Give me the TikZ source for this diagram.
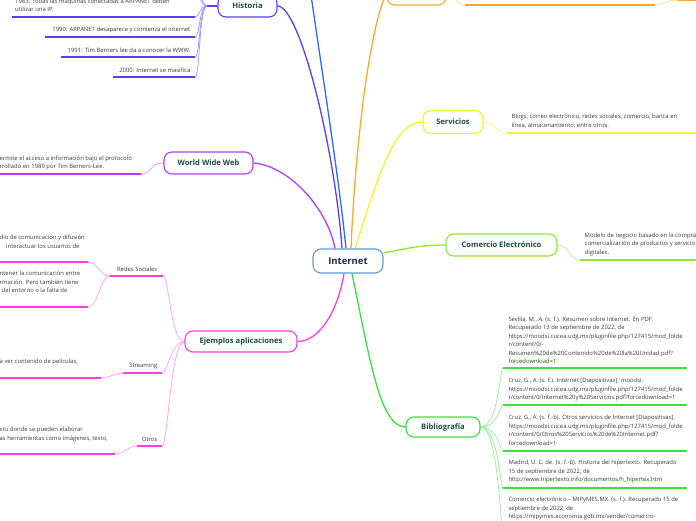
\documentclass[tikz,border=0pt]{standalone}
\usepackage{fontspec}
\setmainfont{Open Sans}
\definecolor{histc}{HTML}{5B3CF5}
\definecolor{histl}{HTML}{A898FF}
\definecolor{bluec}{HTML}{2A6AF5}
\definecolor{orangec}{HTML}{FFA52A}
\definecolor{orangel}{HTML}{FFD9A0}
\definecolor{yellowc}{HTML}{F2F22A}
\definecolor{yellowl}{HTML}{F7F79A}
\definecolor{limec}{HTML}{8DE830}
\definecolor{limel}{HTML}{C5F49A}
\definecolor{greenc}{HTML}{3BE03B}
\definecolor{greenl}{HTML}{9DF09D}
\definecolor{pinkc}{HTML}{FF3DE0}
\definecolor{pinkl}{HTML}{FFA6F2}
\definecolor{wwwc}{HTML}{B43CF4}
\definecolor{wwwl}{HTML}{D9A3FA}
\definecolor{intc}{HTML}{5E9BD6}
\definecolor{titlec}{HTML}{1B4D3E}
\definecolor{navyc}{HTML}{1F2A44}
\definecolor{txtc}{HTML}{3A3A3A}
\pgfdeclarelayer{bg}
\pgfsetlayers{bg,main}
\tikzset{
  topic/.style={draw, line width=1.1pt, rounded corners=8pt, fill=white, inner sep=0pt,
    minimum height=22pt, text=titlec, font=\bfseries\fontsize{7.6}{9}\selectfont},
  small/.style={inner sep=0pt, text=txtc, font=\fontsize{5.9}{8.6}\selectfont, align=left},
  bibtext/.style={small, font=\fontsize{5.9}{8.5}\selectfont},
  branch/.style={line width=1.3pt},
  uline/.style={line width=2pt},
  twig/.style={line width=0.8pt},
}
\begin{document}
\begin{tikzpicture}[x=1pt,y=-1pt]
\useasboundingbox (0,0) rectangle (696,520);
\clip (0,0) rectangle (696,520);

% ---------- main topics ----------
\node[topic, draw=intc, minimum width=70pt, minimum height=24pt, text=navyc,
  font=\bfseries\fontsize{9.5}{11}\selectfont] (internet) at (348,261) {Internet};
\node[topic, draw=histc, minimum width=59pt] (historia) at (247.5,6) {Historia};
\node[topic, draw=orangec, minimum width=59pt] (orangetopic) at (416.5,-6) {};
\node[topic, draw=yellowc, minimum width=60pt, minimum height=23pt] (servicios) at (453,122) {Servicios};
\node[topic, draw=limec, minimum width=111pt] (comercio) at (501.5,245) {Comercio Electrónico};
\node[topic, draw=greenc, minimum width=74pt, minimum height=20pt] (biblio) at (443,427) {Bibliografía};
\node[topic, draw=pinkc, minimum width=112pt, minimum height=21pt] (ejemplos) at (241,341.5) {Ejemplos aplicaciones};
\node[topic, draw=wwwc, minimum width=89pt] (www) at (208.5,163) {World Wide Web};

% ---------- texts ----------
\node[small, anchor=west] (h1983) at (15,5.2) {1983: Todas las máquinas conectadas a ARPANET deben\\utilizar una IP.};
\node[small, anchor=east] (h1990) at (190.5,30.3) {1990: ARPANET desaparece y comienza el internet};
\node[small, anchor=east] (h1991) at (190.5,50.3) {1991: Tim Berners lee da a conocer la WWW.};
\node[small, anchor=east] (h2000) at (190.5,70.3) {2000: Internet se masifica};

\node[small, anchor=west] (wwwtxt) at (-0.5,162.8) {ermite el acceso a información bajo el protocolo\\rrollado en 1989 por Tim Berners-Lee.};

\node[small, anchor=west] (servtxt) at (511.5,121.3) {Blogs, correo electrónico, redes sociales, comercio, banca en\\línea, almacenamiento, entre otros.};
\node[small, anchor=west] (comtxt) at (584.5,244.3) {Modelo de negocio basado en la compra\\comercialización de productos y servicio\\digitales.};

\node[bibtext, anchor=west] (bib1) at (508.3,340.5) {Sevilla, M., A. (s. f.). Resumen sobre Internet. En PDF.\\Recuperado 13 de septiembre de 2022, de\\https://moodsi.cucea.udg.mx/pluginfile.php/127415/mod\_folde\\r/content/0/-\\Resumen\%20de\%20Contenido\%20de\%20la\%20Unidad.pdf?\\forcedownload=1};
\node[bibtext, anchor=west] (bib2) at (508.3,389.6) {Cruz, G., A. (s. f.). Internet [Diapositivas]. moodsi.\\https://moodsi.cucea.udg.mx/pluginfile.php/127415/mod\_folde\\r/content/0/Internet\%20y\%20Servicios.pdf?forcedownload=1};
\node[bibtext, anchor=west] (bib3) at (508.3,430.2) {Cruz, G., A. (s. f.-b). Otros servicios de Internet [Diapositivas].\\https://moodsi.cucea.udg.mx/pluginfile.php/127415/mod\_folde\\r/content/0/Otros\%20Servicios\%20de\%20Internet.pdf?\\forcedownload=1};
\node[bibtext, anchor=west] (bib4) at (508.3,471.9) {Madrid, U. C. de. (s. f.-b). Historia del hipertexto. Recuperado\\15 de septiembre de 2022, de\\http://www.hipertexto.info/documentos/h\_hipertex.htm};
\node[bibtext, anchor=west] (bib5) at (508.3,508.6) {Comercio electrónico – MIPyMES.MX. (s. f.). Recuperado 15 de\\septiembre de 2022, de\\https://mipymes.economia.gob.mx/vender/comercio-};

\node[small, anchor=east] (redes) at (157.5,269) {Redes Sociales};
\node[small, anchor=east] (streaming) at (157.5,366.5) {Streaming};
\node[small, anchor=east] (otros) at (157.5,439) {Otros};

\node[small, anchor=west] (redes1) at (-0.5,241.6) {dio de comunicación y difusión\\\hspace*{6.5pt}interactuar los usuarios de};
\node[small, anchor=west] (redes2) at (-0.5,282) {ntener la comunicación entre\\rmación. Pero también tiene\\\hspace*{2pt}del entorno o la falta de};
\node[small, anchor=west] (stream1) at (-0.5,362.3) {a ver contenido de películas,};
\node[small, anchor=west] (otros1) at (-0.5,434.3) {xto donde se pueden elaborar\\as herramientas como imágenes, texto,};

% ---------- coordinates ----------
\coordinate (blueend) at (306,-40);
\coordinate (hhub) at (207,6);
\coordinate (hu0a) at (195,-12);
\coordinate (hu0b) at (195,-32);
\coordinate (hu1) at (195,17);   \coordinate (hu1l) at (12,17);
\coordinate (hu2) at (195,37.3); \coordinate (hu2l) at (45,37.3);
\coordinate (hu3) at (195,57.3); \coordinate (hu3l) at (61,57.3);
\coordinate (hu4) at (195,77.3); \coordinate (hu4l) at (113,77.3);
\coordinate (wu) at (141,174);   \coordinate (wul) at (0,174);
\coordinate (su) at (507,133);   \coordinate (sur) at (700,133);
\coordinate (cu) at (580,260);   \coordinate (cur) at (700,260);
\coordinate (ou) at (465,5);     \coordinate (our) at (655,5);
\coordinate (ou2) at (677,0);    \coordinate (ou2r) at (700,0);
\coordinate (rr) at (163,276);   \coordinate (rl) at (110,276);
\coordinate (sr) at (162,373.3); \coordinate (sl) at (123,373.3);
\coordinate (otr) at (162,446);  \coordinate (otl) at (137,446);
\coordinate (r1r) at (88,262.3); \coordinate (r1l) at (0,262.3);
\coordinate (r2r) at (88,307.3); \coordinate (r2l) at (0,307.3);
\coordinate (s1r) at (101,377.7);\coordinate (s1l) at (0,377.7);
\coordinate (o1r) at (115,454);  \coordinate (o1l) at (0,454);
\foreach \i/\y in {1/368,2/405,3/451,4/488,5/528}{
  \coordinate (bu\i) at (503,\y);
  \coordinate (bu\i r) at (687,\y);
}

\begin{pgfonlayer}{bg}
% ---------- main branches ----------
\draw[branch, bluec] ([xshift=-2pt]internet.north) .. controls (338,170) and (320,60) .. (blueend);
\draw[branch, histc] ([xshift=-6pt]internet.north) .. controls (335,150) and (300,6) .. (historia.east);
\draw[branch, orangec] ([xshift=3pt]internet.north) .. controls (356,130) and (372,20) .. (orangetopic.west);
\draw[branch, yellowc] ([xshift=7pt]internet.north) .. controls (380,170) and (395,122) .. (servicios.west);
\draw[branch, limec] ([yshift=8pt]internet.east) .. controls (410,248) and (420,245) .. (comercio.west);
\draw[branch, greenc] ([xshift=4pt]internet.south) .. controls (370,360) and (380,427) .. (biblio.west);
\draw[branch, pinkc] ([xshift=-4pt]internet.south) .. controls (338,310) and (320,341.5) .. (ejemplos.east);
\draw[branch, wwwc] ([xshift=-13pt]internet.north) .. controls (328,210) and (290,166) .. (www.east);

% ---------- Historia ----------
\draw[uline, histc] (historia.west) -- (hhub);
\foreach \c in {hu0a,hu0b,hu1,hu2,hu3,hu4}{
  \draw[twig, histl] (hhub) .. controls +(-8,0) and +(5,0) .. (\c);
}
\draw[uline, histc] (hu1l) -- (hu1);
\draw[uline, histc] (hu2l) -- (hu2);
\draw[uline, histc] (hu3l) -- (hu3);
\draw[uline, histc] (hu4l) -- (hu4);

% ---------- WWW ----------
\draw[twig, wwwl] (www.west) .. controls (150,163) and (152,174) .. (wu);
\draw[uline, wwwc] (wul) -- (wu);

% ---------- Orange ----------
\draw[twig, orangel] (orangetopic.east) .. controls (456,-6) and (455,5) .. (ou);
\draw[uline, orangec] (ou) -- (our);
\draw[twig, orangel] (our) .. controls (667,5) and (665,0) .. (ou2);
\draw[orangec, line width=2.6pt] (ou2) -- (ou2r);

% ---------- Servicios / Comercio ----------
\draw[twig, yellowl] (servicios.east) .. controls (495,122) and (497,133) .. (su);
\draw[uline, yellowc] (su) -- (sur);
\draw[twig, limel] (comercio.east) .. controls (569,245) and (570,260) .. (cu);
\draw[uline, limec] (cu) -- (cur);

% ---------- Bibliografia ----------
\foreach \i in {1,...,5}{
  \draw[twig, greenl] (biblio.east) .. controls +(18,0) and +(-3,0) .. (bu\i);
  \draw[uline, greenc] (bu\i) -- (bu\i r);
}

% ---------- Ejemplos ----------
\foreach \c in {rr,sr,otr}{
  \draw[twig, pinkl] (ejemplos.west) .. controls +(-14,0) and +(6,0) .. (\c);
}
\draw[uline, pinkc] (rl) -- (rr);
\draw[uline, pinkc] (sl) -- (sr);
\draw[uline, pinkc] (otl) -- (otr);
\draw[twig, pinkl] (rl) .. controls +(-10,0) and +(10,0) .. (r1r);
\draw[twig, pinkl] (rl) .. controls +(-10,0) and +(10,0) .. (r2r);
\draw[twig, pinkl] (sl) .. controls +(-10,0) and +(10,0) .. (s1r);
\draw[twig, pinkl] (otl) .. controls +(-10,0) and +(10,0) .. (o1r);
\draw[uline, pinkc] (r1l) -- (r1r);
\draw[uline, pinkc] (r2l) -- (r2r);
\draw[uline, pinkc] (s1l) -- (s1r);
\draw[uline, pinkc] (o1l) -- (o1r);
\end{pgfonlayer}
\end{tikzpicture}
\end{document}
